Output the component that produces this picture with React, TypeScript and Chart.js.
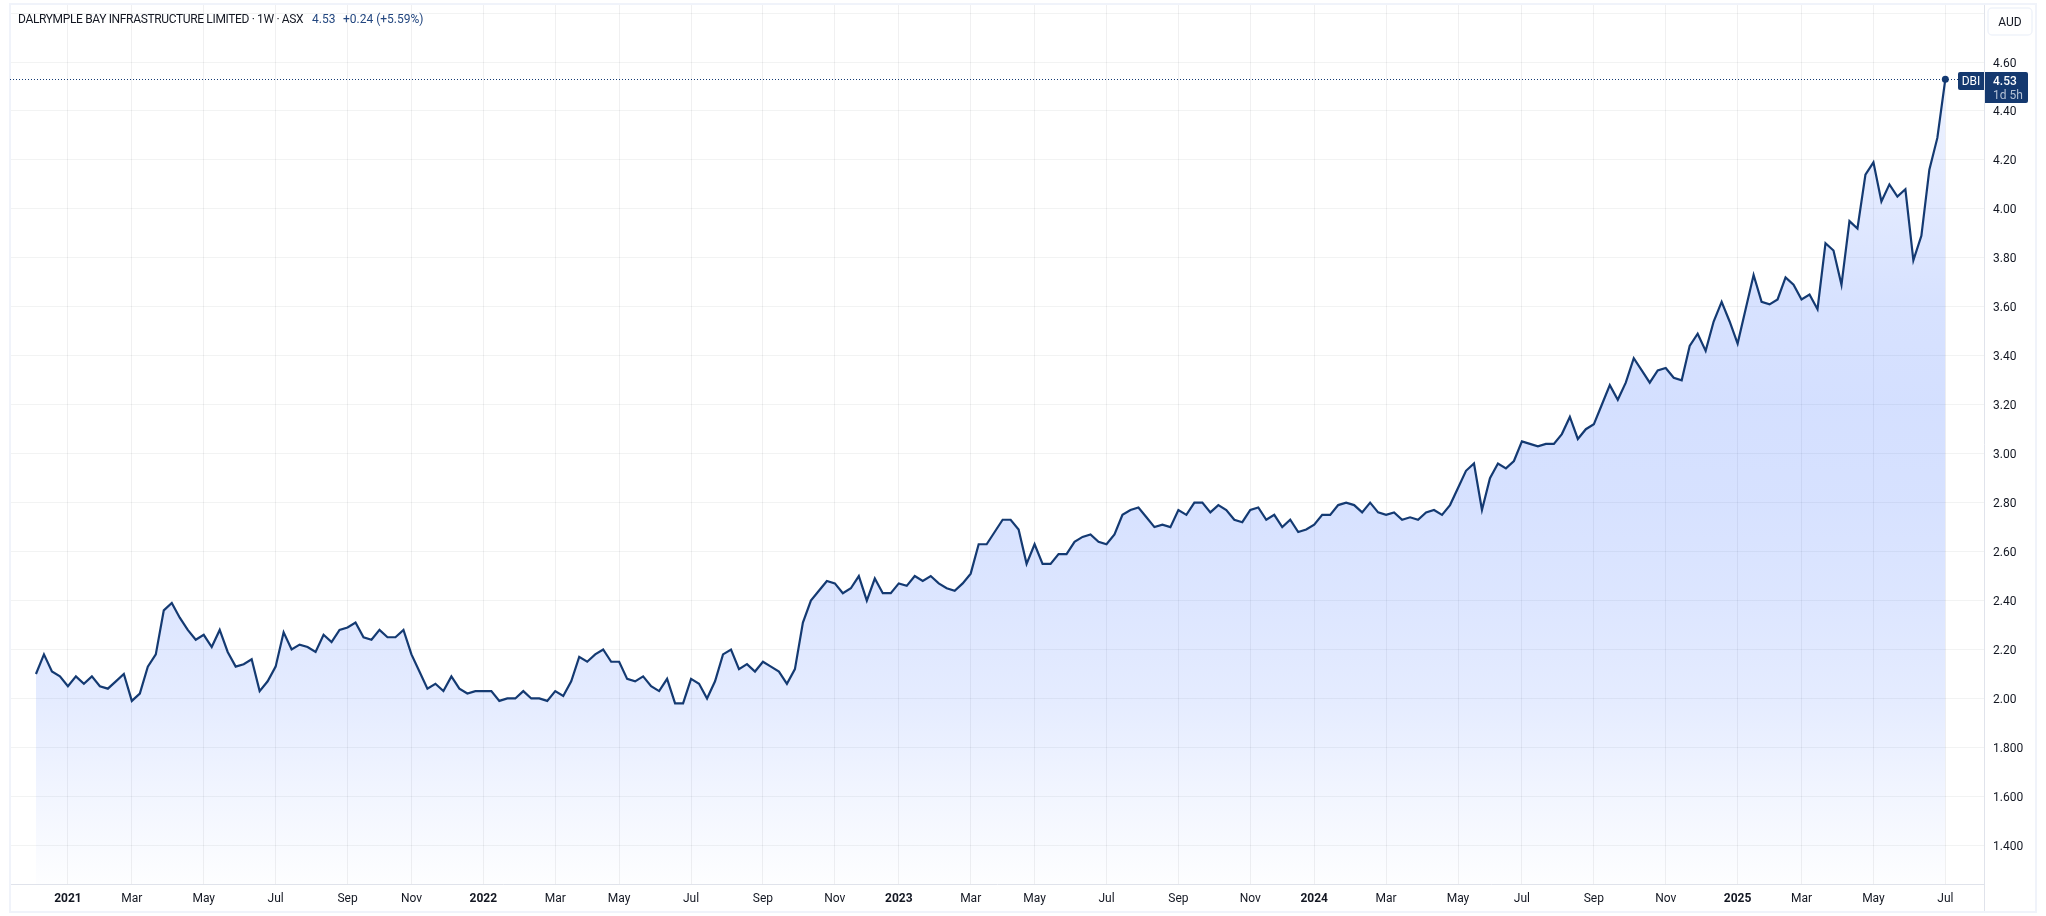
import React, { useEffect, useRef } from "react";
import { Chart, registerables } from "chart.js";

Chart.register(...registerables);

const closes = [
  2.10, 2.18, 2.11, 2.09, 2.05, 2.09, 2.06, 2.09, 2.05, 2.04,
  2.07, 2.10, 1.99, 2.02, 2.13, 2.18, 2.36, 2.39, 2.33, 2.28,
  2.24, 2.26, 2.21, 2.28, 2.19, 2.13, 2.14, 2.16, 2.03, 2.07,
  2.13, 2.27, 2.20, 2.22, 2.21, 2.19, 2.26, 2.23, 2.28, 2.29,
  2.31, 2.25, 2.24, 2.28, 2.25, 2.25, 2.28, 2.18, 2.11, 2.04,
  2.06, 2.03, 2.09, 2.04, 2.02, 2.03, 2.03, 2.03, 1.99, 2.00,
  2.00, 2.03, 2.00, 2.00, 1.99, 2.03, 2.01, 2.07, 2.17, 2.15,
  2.18, 2.20, 2.15, 2.15, 2.08, 2.07, 2.09, 2.05, 2.03, 2.08,
  1.98, 1.98, 2.08, 2.06, 2.00, 2.07, 2.18, 2.20, 2.12, 2.14,
  2.11, 2.15, 2.13, 2.11, 2.06, 2.12, 2.31, 2.40, 2.44, 2.48,
  2.47, 2.43, 2.45, 2.50, 2.40, 2.49, 2.43, 2.43, 2.47, 2.46,
  2.50, 2.48, 2.50, 2.47, 2.45, 2.44, 2.47, 2.51, 2.63, 2.63,
  2.68, 2.73, 2.73, 2.69, 2.55, 2.63, 2.55, 2.55, 2.59, 2.59,
  2.64, 2.66, 2.67, 2.64, 2.63, 2.67, 2.75, 2.77, 2.78, 2.74,
  2.70, 2.71, 2.70, 2.77, 2.75, 2.80, 2.80, 2.76, 2.79, 2.77,
  2.73, 2.72, 2.77, 2.78, 2.73, 2.75, 2.70, 2.73, 2.68, 2.69,
  2.71, 2.75, 2.75, 2.79, 2.80, 2.79, 2.76, 2.80, 2.76, 2.75,
  2.76, 2.73, 2.74, 2.73, 2.76, 2.77, 2.75, 2.79, 2.86, 2.93,
  2.96, 2.77, 2.90, 2.96, 2.94, 2.97, 3.05, 3.04, 3.03, 3.04,
  3.04, 3.08, 3.15, 3.06, 3.10, 3.12, 3.20, 3.28, 3.22, 3.29,
  3.39, 3.34, 3.29, 3.34, 3.35, 3.31, 3.30, 3.44, 3.49, 3.42,
  3.54, 3.62, 3.54, 3.45, 3.59, 3.73, 3.62, 3.61, 3.63, 3.72,
  3.69, 3.63, 3.65, 3.59, 3.86, 3.83, 3.69, 3.95, 3.92, 4.14,
  4.19, 4.03, 4.10, 4.05, 4.08, 3.79, 3.89, 4.16, 4.29, 4.53,
];

const timeTickIndexes = [
  4, 12, 21, 30, 39, 47, 56, 65, 73, 82, 91, 100, 108, 117,
  125, 134, 143, 152, 160, 169, 178, 186, 195, 204, 213, 221, 230, 239,
];
const timeTickLabels = [
  "2021", "Mar", "May", "Jul", "Sep", "Nov", "2022", "Mar", "May", "Jul", "Sep", "Nov", "2023", "Mar",
  "May", "Jul", "Sep", "Nov", "2024", "Mar", "May", "Jul", "Sep", "Nov", "2025", "Mar", "May", "Jul",
];

const priceTicks = [1.4, 1.6, 1.8, 2.0, 2.2, 2.4, 2.6, 2.8, 3.0, 3.2, 3.4, 3.6, 3.8, 4.0, 4.2, 4.4, 4.6, 4.8];
const priceTickLabels = [
  "1.400", "1.600", "1.800", "2.00", "2.20", "2.40", "2.60", "2.80", "3.00",
  "3.20", "3.40", "3.60", "3.80", "4.00", "4.20", "4.40", "4.60", "",
];

const titleText = "DALRYMPLE BAY INFRASTRUCTURE LIMITED · 1W · ASX";
const lastPriceText = "4.53";
const changeText = "+0.24 (+5.59%)";
const currencyText = "AUD";
const symbolText = "DBI";
const countdownText = "1d 5h";

const FONT = 'Roboto, sans-serif';
const LINE = "#143a72";
const BORDER = "#e0e3eb";
const FRAME = "#f0f3fa";

const gradientStops: [number, number][] = [
  [0.065, 0.07],
  [0.165, 0.11],
  [0.335, 0.185],
  [0.45, 0.2],
  [0.565, 0.19],
  [0.68, 0.16],
  [0.795, 0.12],
  [0.905, 0.06],
  [1.0, 0.008],
];

function roundRect(ctx: CanvasRenderingContext2D, x: number, y: number, w: number, h: number, r: any) {
  ctx.beginPath();
  ctx.roundRect(x, y, w, h, r);
}

const framePlugin = {
  id: "frame",
  beforeDraw(chart: any) {
    const { ctx, width, height } = chart;
    ctx.save();
    ctx.fillStyle = "#ffffff";
    ctx.fillRect(0, 0, width, height);
    ctx.restore();
  },
  afterDraw(chart: any) {
    const { ctx, chartArea, scales } = chart;
    const { left, right, bottom } = chartArea;
    ctx.save();

    // frame of the widget
    ctx.strokeStyle = FRAME;
    ctx.lineWidth = 2;
    ctx.strokeRect(10, 4, 2026, 908);

    // time / price axis junction
    ctx.strokeStyle = BORDER;
    ctx.lineWidth = 1;
    ctx.beginPath();
    ctx.moveTo(right + 0.5, bottom);
    ctx.lineTo(right + 0.5, 911);
    ctx.stroke();

    // last price dotted line
    const lastY = scales.y.getPixelForValue(closes[closes.length - 1]);
    const lastX = scales.x.getPixelForValue(closes.length - 1);
    ctx.strokeStyle = LINE;
    ctx.setLineDash([1, 2]);
    ctx.beginPath();
    ctx.moveTo(left, Math.round(lastY) + 0.5);
    ctx.lineTo(right, Math.round(lastY) + 0.5);
    ctx.stroke();
    ctx.setLineDash([]);

    // last point
    ctx.fillStyle = LINE;
    ctx.beginPath();
    ctx.arc(lastX, lastY, 3.5, 0, Math.PI * 2);
    ctx.fill();

    // title
    ctx.textBaseline = "middle";
    ctx.textAlign = "left";
    ctx.font = `12px ${FONT}`;
    ctx.fillStyle = "#131722";
    (ctx as any).letterSpacing = "-0.35px";
    ctx.fillText(titleText, 18, 20);
    (ctx as any).letterSpacing = "0px";
    ctx.fillStyle = "#22467f";
    ctx.fillText(lastPriceText, 312, 20);
    ctx.fillText(changeText, 343, 20);

    // currency button
    ctx.strokeStyle = FRAME;
    ctx.lineWidth = 1.5;
    ctx.fillStyle = "#ffffff";
    roundRect(ctx, 1988, 8, 44, 27, 4);
    ctx.fill();
    ctx.stroke();
    ctx.fillStyle = "#131722";
    ctx.font = `12px ${FONT}`;
    ctx.textAlign = "center";
    ctx.fillText(currencyText, 2010, 23);

    // symbol tag and last price tag
    ctx.fillStyle = "#15396f";
    roundRect(ctx, 1958, 72, 26, 18, [2, 0, 0, 2]);
    ctx.fill();
    roundRect(ctx, 1985, 72, 43, 31, [0, 2, 2, 0]);
    ctx.fill();
    ctx.fillStyle = "#ffffff";
    ctx.textAlign = "center";
    ctx.font = `12px ${FONT}`;
    ctx.fillText(symbolText, 1971, 82);
    ctx.textAlign = "left";
    ctx.font = `500 12px ${FONT}`;
    ctx.fillText(lastPriceText, 1993, 82);
    ctx.fillStyle = "#b4c1d5";
    ctx.font = `12px ${FONT}`;
    ctx.fillText(countdownText, 1993, 96);
    ctx.restore();
  },
};

export default function App() {
  const ref = useRef<HTMLCanvasElement | null>(null);

  useEffect(() => {
    const canvas = ref.current;
    if (!canvas) return;
    const chart = new Chart(canvas, {
      type: "line",
      data: {
        datasets: [
          {
            data: closes.map((y, x) => ({ x, y })),
            borderColor: LINE,
            borderWidth: 2.2,
            pointRadius: 0,
            tension: 0,
            fill: "start",
            backgroundColor: (c: any) => {
              const area = c.chart.chartArea;
              if (!area) return "rgba(41,98,255,0.15)";
              const g = c.chart.ctx.createLinearGradient(0, area.top, 0, area.bottom);
              gradientStops.forEach(([p, a]) => g.addColorStop(p, `rgba(41,98,255,${a})`));
              return g;
            },
          },
        ],
      },
      options: {
        responsive: false,
        animation: false,
        devicePixelRatio: 1,
        layout: { padding: { left: 10, top: 4, right: 11, bottom: 5 } },
        plugins: { legend: { display: false }, tooltip: { enabled: false }, title: { display: false } },
        scales: {
          x: {
            type: "linear",
            min: -3.25,
            max: 243.84,
            afterBuildTicks: (s: any) => {
              s.ticks = timeTickIndexes.map((value) => ({ value }));
            },
            afterFit: (s: any) => {
              s.height = 27;
              s.paddingLeft = 0;
              s.paddingRight = 0;
            },
            grid: { color: "rgba(42,46,57,0.07)", drawTicks: false },
            border: { color: BORDER, width: 1 },
            ticks: {
              autoSkip: false,
              maxRotation: 0,
              padding: 8,
              color: "#131722",
              font: (c: any) => {
                const i = timeTickIndexes.indexOf(c.tick?.value);
                return { family: FONT, size: 12, weight: /^\d/.test(timeTickLabels[i] ?? "") ? "bold" : "normal" };
              },
              callback: (v: any) => timeTickLabels[timeTickIndexes.indexOf(v)] ?? "",
            },
          },
          y: {
            type: "linear",
            position: "right",
            min: 1.242,
            max: 4.837,
            afterBuildTicks: (s: any) => {
              s.ticks = priceTicks.map((value) => ({ value }));
            },
            afterFit: (s: any) => {
              s.width = 51;
              s.paddingTop = 0;
              s.paddingBottom = 0;
            },
            grid: { color: "rgba(42,46,57,0.06)", drawTicks: false },
            border: { color: BORDER, width: 1 },
            ticks: {
              autoSkip: false,
              padding: 9,
              labelOffset: 1.5,
              color: "#131722",
              font: { family: FONT, size: 12 },
              callback: (v: any) => priceTickLabels[priceTicks.findIndex((t) => Math.abs(t - v) < 1e-6)] ?? "",
            },
          },
        },
      },
      plugins: [framePlugin],
    } as any);
    return () => chart.destroy();
  }, []);

  return (
    <div style={{ position: "absolute", left: 0, top: 0, width: 2046, height: 916 }}>
      <canvas ref={ref} width={2046} height={916} style={{ display: "block", width: 2046, height: 916 }} />
    </div>
  );
}
